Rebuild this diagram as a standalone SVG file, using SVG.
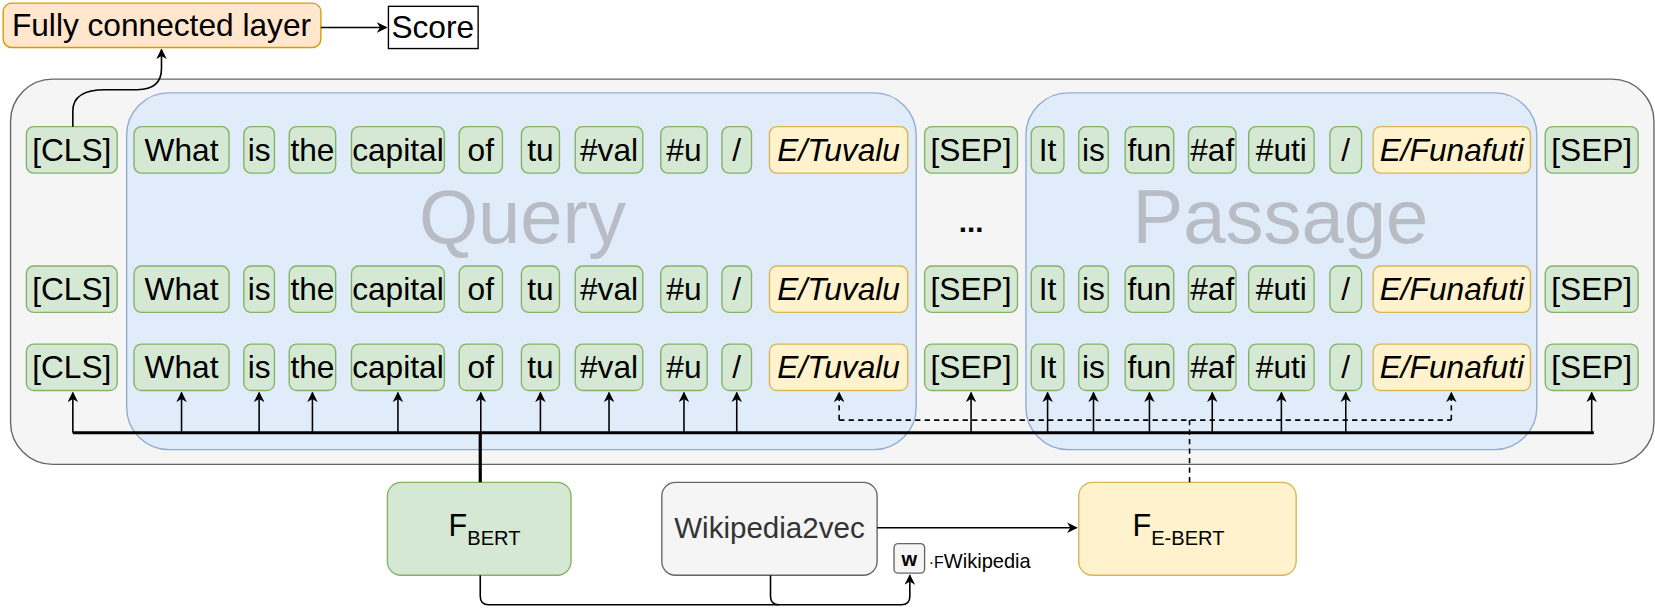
<svg xmlns="http://www.w3.org/2000/svg" width="1655" height="610" viewBox="0 0 1655 610">
<style>
text{font-family:"Liberation Sans",Arial,sans-serif;fill:#000}
.t{font-size:30px;text-anchor:middle;dominant-baseline:central}
.g{fill:#d5e8d4;stroke:#82b366;stroke-width:1.3}
.y{fill:#fff2cc;stroke:#d6b656;stroke-width:1.3}
.big{font-size:72px;fill:#b8bcc4;text-anchor:middle;dominant-baseline:central}
.c{fill:none;stroke:#000;stroke-width:1.5}
.bus{fill:none;stroke:#000;stroke-width:3}
.d{fill:none;stroke:#000;stroke-width:1.5;stroke-dasharray:5 4}
</style>
<defs>
<marker id="a" viewBox="0 0 10 10" refX="9" refY="5" markerWidth="10" markerHeight="10" orient="auto" markerUnits="userSpaceOnUse"><path d="M0,0 L10,5 L0,10 L3,5 z" fill="#000"/></marker>
</defs>
<g transform="scale(1.0555)">
<g id="outer"><rect x="10" y="75" width="1557" height="365" rx="40" fill="#f5f5f5" stroke="#666" stroke-width="1.3"/></g>
<g id="query"><rect x="120" y="88" width="748" height="338" rx="40" fill="#dae8fc" fill-opacity="0.75" stroke="#6c8ebf" stroke-opacity="0.7" stroke-width="1.3"/><text class="big" x="495" y="205">Query</text></g>
<g id="passage"><rect x="972" y="88" width="484" height="338" rx="40" fill="#dae8fc" fill-opacity="0.75" stroke="#6c8ebf" stroke-opacity="0.7" stroke-width="1.3"/><text class="big" x="1213" y="205">Passage</text></g>
<text x="920" y="210" class="t" font-weight="bold" style="font-size:28px">...</text>
<g id="fc"><rect x="3" y="3" width="301" height="42" rx="8" fill="#ffe6cc" stroke="#d79b00" stroke-width="1.3"/><text class="t" x="153" y="24">Fully connected layer</text></g>
<g id="score"><rect x="368" y="6" width="85" height="40" fill="#fff" stroke="#000" stroke-width="1.3"/><text class="t" x="410" y="26">Score</text></g>
<g id="tokens">
<g id="row1" transform="translate(0,120)">
<rect class="g" x="25" y="0" width="86" height="44" rx="7"/><text class="t" x="68" y="22">[CLS]</text>
<rect class="g" x="127" y="0" width="90" height="44" rx="7"/><text class="t" x="172" y="22">What</text>
<rect class="g" x="231" y="0" width="29" height="44" rx="7"/><text class="t" x="245.5" y="22">is</text>
<rect class="g" x="274" y="0" width="44" height="44" rx="7"/><text class="t" x="296" y="22">the</text>
<rect class="g" x="333" y="0" width="88" height="44" rx="7"/><text class="t" x="377" y="22">capital</text>
<rect class="g" x="435" y="0" width="41" height="44" rx="7"/><text class="t" x="455.5" y="22">of</text>
<rect class="g" x="494" y="0" width="36" height="44" rx="7"/><text class="t" x="512" y="22">tu</text>
<rect class="g" x="545" y="0" width="64" height="44" rx="7"/><text class="t" x="577" y="22">#val</text>
<rect class="g" x="626" y="0" width="44" height="44" rx="7"/><text class="t" x="648" y="22">#u</text>
<rect class="g" x="684" y="0" width="28" height="44" rx="7"/><text class="t" x="698" y="22">/</text>
<rect class="y" x="729" y="0" width="131" height="44" rx="7"/><text class="t" x="794.5" y="22" font-style="italic">E/Tuvalu</text>
<rect class="g" x="876" y="0" width="88" height="44" rx="7"/><text class="t" x="920" y="22">[SEP]</text>
<rect class="g" x="977" y="0" width="31" height="44" rx="7"/><text class="t" x="992.5" y="22">It</text>
<rect class="g" x="1022" y="0" width="28" height="44" rx="7"/><text class="t" x="1036" y="22">is</text>
<rect class="g" x="1066" y="0" width="46" height="44" rx="7"/><text class="t" x="1089" y="22">fun</text>
<rect class="g" x="1126" y="0" width="45" height="44" rx="7"/><text class="t" x="1148.5" y="22">#af</text>
<rect class="g" x="1183" y="0" width="62" height="44" rx="7"/><text class="t" x="1214" y="22">#uti</text>
<rect class="g" x="1260" y="0" width="30" height="44" rx="7"/><text class="t" x="1275" y="22">/</text>
<rect class="y" x="1301" y="0" width="149" height="44" rx="7"/><text class="t" x="1375.5" y="22" font-style="italic">E/Funafuti</text>
<rect class="g" x="1464" y="0" width="88" height="44" rx="7"/><text class="t" x="1508" y="22">[SEP]</text>
</g>
<use id="row2" href="#row1" y="132"/>
<use id="row3" href="#row1" y="206"/>
</g>
<g id="fbert"><rect x="367" y="457" width="174" height="88" rx="13" fill="#d5e8d4" stroke="#82b366" stroke-width="1.3"/><text x="425" y="508" font-size="29">F<tspan font-size="19" dy="8">BERT</tspan></text></g>
<g id="w2v"><rect x="627" y="457" width="204" height="88" rx="13" fill="#f5f5f5" stroke="#666" stroke-width="1.3"/><text class="t" x="729" y="500" style="fill:#333;font-size:28px">Wikipedia2vec</text></g>
<g id="febert"><rect x="1022" y="457" width="206" height="88" rx="13" fill="#fff2cc" stroke="#d6b656" stroke-width="1.3"/><text x="1073" y="508" font-size="29">F<tspan font-size="19" dy="8">E-BERT</tspan></text></g>
<g id="w"><rect x="847" y="515" width="29" height="28" rx="4" fill="#f5f5f5" stroke="#666" stroke-width="1.3"/><text x="861.5" y="536" font-size="19" font-weight="bold" text-anchor="middle">w</text><text x="880" y="538" font-size="15">·F<tspan font-size="19">Wikipedia</tspan></text></g>
<g id="connectors">
<path class="c" d="M304,26 H366" marker-end="url(#a)"/>
<path class="c" d="M69,120 V105 Q69,85 100,85 H130 Q153,85 153,65 V47" marker-end="url(#a)"/>
<path class="bus" d="M455,457 V410 M69,410 H1510"/>
<path class="c" d="M69,410 V372" marker-end="url(#a)"/>
<path class="c" d="M172,410 V372" marker-end="url(#a)"/>
<path class="c" d="M245.5,410 V372" marker-end="url(#a)"/>
<path class="c" d="M296,410 V372" marker-end="url(#a)"/>
<path class="c" d="M377,410 V372" marker-end="url(#a)"/>
<path class="c" d="M455.5,410 V372" marker-end="url(#a)"/>
<path class="c" d="M512,410 V372" marker-end="url(#a)"/>
<path class="c" d="M577,410 V372" marker-end="url(#a)"/>
<path class="c" d="M648,410 V372" marker-end="url(#a)"/>
<path class="c" d="M698,410 V372" marker-end="url(#a)"/>
<path class="c" d="M920,410 V372" marker-end="url(#a)"/>
<path class="c" d="M992.5,410 V372" marker-end="url(#a)"/>
<path class="c" d="M1036,410 V372" marker-end="url(#a)"/>
<path class="c" d="M1089,410 V372" marker-end="url(#a)"/>
<path class="c" d="M1148.5,410 V372" marker-end="url(#a)"/>
<path class="c" d="M1214,410 V372" marker-end="url(#a)"/>
<path class="c" d="M1275,410 V372" marker-end="url(#a)"/>
<path class="c" d="M1508,410 V372" marker-end="url(#a)"/>
<path class="d" d="M1127,457 V398 M795,398 H1375"/>
<path class="d" d="M795,398 V372" marker-end="url(#a)"/>
<path class="d" d="M1375,398 V372" marker-end="url(#a)"/>
<path class="c" d="M831,500 H1020" marker-end="url(#a)"/>
<path class="c" d="M455,545 V565 Q455,573 463,573 H854 Q862,573 862,565 V545" marker-end="url(#a)"/>
<path class="c" d="M730,545 V565 Q730,573 738,573"/>
</g>
</g>
</svg>
